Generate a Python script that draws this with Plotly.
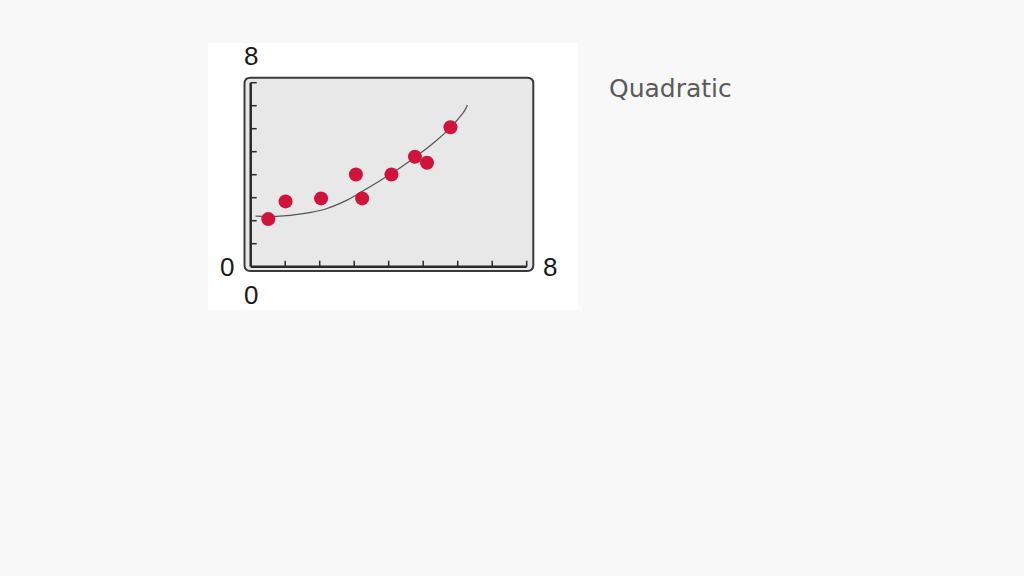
import plotly.graph_objects as go

# data
x_pts = [0.51, 1.01, 2.04, 3.05, 3.23, 4.08, 4.76, 5.11, 5.79]
y_pts = [2.07, 2.84, 2.97, 4.01, 2.97, 4.01, 4.78, 4.52, 6.06]

curve_x = [0.14, 0.75, 1.57, 2.15, 2.73, 3.17, 3.65, 4.09, 4.52, 5.29, 5.8, 6.07, 6.21, 6.28]
curve_y = [2.2, 2.19, 2.32, 2.5, 2.85, 3.22, 3.65, 4.06, 4.5, 5.37, 6.06, 6.52, 6.81, 7.03]

tick_vals = [1, 2, 3, 4, 5, 6, 7, 8]
axis_max = 8

# pixel geometry of the screen
W, H = 1024, 576
X0PX, XPU = 250.7, 34.5   # px of x=0, px per unit
Y0PX, YPU = 266.7, 23.0   # px of y=0, px per unit
L, R, T, B = 208, 578, 43, 310  # white card

def dx(px):
    return (px - X0PX) / XPU

def dy(py):
    return (Y0PX - py) / YPU

fig = go.Figure()

# rounded screen box
x_l, x_r = dx(244.5), dx(533.3)
y_t, y_b = dy(77.7), dy(271)
rx, ry = 6 / XPU, 6 / YPU
path = (f"M {x_l + rx},{y_t} L {x_r - rx},{y_t} Q {x_r},{y_t} {x_r},{y_t - ry} "
        f"L {x_r},{y_b + ry} Q {x_r},{y_b} {x_r - rx},{y_b} "
        f"L {x_l + rx},{y_b} Q {x_l},{y_b} {x_l},{y_b + ry} "
        f"L {x_l},{y_t - ry} Q {x_l},{y_t} {x_l + rx},{y_t} Z")
fig.add_shape(type='path', path=path, xref='x', yref='y', layer='below',
              fillcolor='#e8e8e8', line=dict(color='#3a3a3a', width=2))

# axes lines
fig.add_shape(type='line', x0=0, y0=0, x1=axis_max, y1=0, xref='x', yref='y',
              line=dict(color='#2a2a2a', width=2.5))
fig.add_shape(type='line', x0=0, y0=0, x1=0, y1=axis_max, xref='x', yref='y',
              line=dict(color='#2a2a2a', width=2.5))

for v in tick_vals:
    fig.add_shape(type='line', xref='x', yref='y', x0=v, x1=v,
                  ysizemode='pixel', yanchor=0, y0=0, y1=6,
                  line=dict(color='#2a2a2a', width=1.5))
    fig.add_shape(type='line', xref='x', yref='y', y0=v, y1=v,
                  xsizemode='pixel', xanchor=0, x0=0, x1=6,
                  line=dict(color='#2a2a2a', width=1.5))

fig.add_trace(go.Scatter(x=curve_x, y=curve_y, mode='lines',
                         line=dict(color='#555555', width=1.2, shape='spline', smoothing=1.0),
                         hoverinfo='skip'))
fig.add_trace(go.Scatter(x=x_pts, y=y_pts, mode='markers',
                         marker=dict(color='#d1133c', size=14, line=dict(width=0))))

lab = dict(family='Liberation Sans', size=26, color='#1a1a1a')
fig.add_annotation(x=0, y=axis_max, text='8', showarrow=False, yshift=27, font=lab)
fig.add_annotation(x=0, y=0, text='0', showarrow=False, xshift=-24, font=lab)
fig.add_annotation(x=0, y=0, text='0', showarrow=False, yshift=-28, font=lab)
fig.add_annotation(x=axis_max, y=0, text='8', showarrow=False, xshift=23, font=lab)

fig.add_annotation(xref='paper', yref='paper', x=(670 - L) / (R - L), y=(B - 88) / (B - T),
                   xanchor='center', yanchor='middle',
                   text='Quadratic', showarrow=False,
                   font=dict(family='DejaVu Sans', size=25, color='#5a5a5a'))

fig.update_layout(
    width=W, height=H,
    margin=dict(l=L, r=W - R, t=T, b=H - B, pad=0),
    paper_bgcolor='#f8f8f8',
    plot_bgcolor='#ffffff',
    showlegend=False,
)
fig.update_xaxes(range=[dx(L), dx(R)], visible=False, fixedrange=True)
fig.update_yaxes(range=[dy(B), dy(T)], visible=False, fixedrange=True)

fig.write_html("out.html", config={'displayModeBar': False},
               post_script="document.body.style.margin='0';document.body.style.overflow='hidden';")
